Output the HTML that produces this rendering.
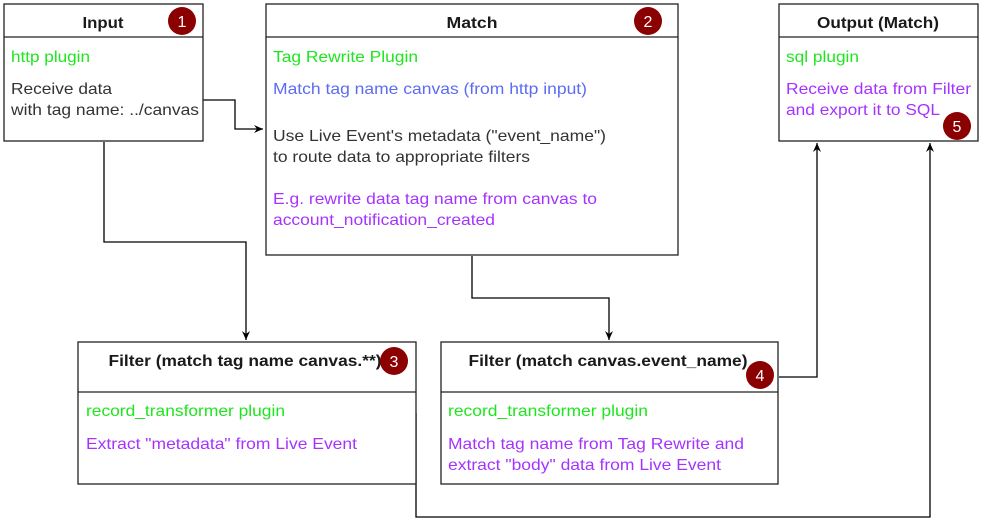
<!DOCTYPE html>
<html><head><meta charset="utf-8"><style>
html,body{margin:0;padding:0;background:#fff;}
svg{display:block;}
text{font-family:"Liberation Sans",Arial,sans-serif;font-size:16px;}
.h{font-weight:bold;fill:#1a1a1a;text-anchor:middle;}
.g{fill:#1ee61e;}
.k{fill:#333;}
.b{fill:#5c6cf2;}
.p{fill:#a533ff;}
.n{fill:#fff;text-anchor:middle;font-size:16px;}
</style></head><body>
<svg width="986" height="531" viewBox="0 0 986 531" xmlns="http://www.w3.org/2000/svg">
<defs><marker id="a" markerWidth="10" markerHeight="10" refX="9" refY="5" orient="auto" markerUnits="userSpaceOnUse"><path d="M0,1 L9,5 L0,9 L3,5 z" fill="#000"/></marker></defs>
<g fill="none" stroke="#000" stroke-width="1.3">
<path d="M203,100 H235 V129 H263" marker-end="url(#a)"/>
<path d="M104,142 V242 H246 V340" marker-end="url(#a)"/>
<path d="M472,256 V298 H609 V340" marker-end="url(#a)"/>
<path d="M779,377 H817 V143" marker-end="url(#a)"/>
<path d="M416,413 V517 H930 V143" marker-end="url(#a)"/>
</g>
<g fill="#fff" stroke="#222" stroke-width="1.3">
<rect x="4" y="4" width="199" height="137"/><line x1="4" y1="37" x2="203" y2="37"/>
<rect x="266" y="4" width="412" height="251"/><line x1="266" y1="37" x2="678" y2="37"/>
<rect x="779" y="4" width="199" height="137"/><line x1="779" y1="37" x2="978" y2="37"/>
<rect x="78" y="342" width="338" height="142"/><line x1="78" y1="392" x2="416" y2="392"/>
<rect x="441" y="342" width="337" height="142"/><line x1="441" y1="392" x2="778" y2="392"/>
</g>
<text class="h" x="103" y="28" textLength="41" lengthAdjust="spacingAndGlyphs">Input</text>
<text class="g" x="11" y="62" textLength="79" lengthAdjust="spacingAndGlyphs">http plugin</text>
<text class="k" x="11" y="94" textLength="101" lengthAdjust="spacingAndGlyphs">Receive data</text>
<text class="k" x="11" y="115" textLength="188" lengthAdjust="spacingAndGlyphs">with tag name: ../canvas</text>
<text class="h" x="472" y="28" textLength="51" lengthAdjust="spacingAndGlyphs">Match</text>
<text class="g" x="273" y="62" textLength="145" lengthAdjust="spacingAndGlyphs">Tag Rewrite Plugin</text>
<text class="b" x="273" y="94" textLength="314" lengthAdjust="spacingAndGlyphs">Match tag name canvas (from http input)</text>
<text class="k" x="273" y="141" textLength="333" lengthAdjust="spacingAndGlyphs">Use Live Event's metadata ("event_name")</text>
<text class="k" x="273" y="162" textLength="257" lengthAdjust="spacingAndGlyphs">to route data to appropriate filters</text>
<text class="p" x="273" y="204" textLength="324" lengthAdjust="spacingAndGlyphs">E.g. rewrite data tag name from canvas to</text>
<text class="p" x="273" y="225" textLength="222" lengthAdjust="spacingAndGlyphs">account_notification_created</text>
<text class="h" x="878" y="28" textLength="122" lengthAdjust="spacingAndGlyphs">Output (Match)</text>
<text class="g" x="786" y="62" textLength="73" lengthAdjust="spacingAndGlyphs">sql plugin</text>
<text class="p" x="786" y="94" textLength="185" lengthAdjust="spacingAndGlyphs">Receive data from Filter</text>
<text class="p" x="786" y="115" textLength="154" lengthAdjust="spacingAndGlyphs">and export it to SQL</text>
<text class="h" x="245" y="366" textLength="273" lengthAdjust="spacingAndGlyphs">Filter (match tag name canvas.**)</text>
<text class="g" x="86" y="416" textLength="199" lengthAdjust="spacingAndGlyphs">record_transformer plugin</text>
<text class="p" x="86" y="449" textLength="271" lengthAdjust="spacingAndGlyphs">Extract "metadata" from Live Event</text>
<text class="h" x="608" y="366" textLength="279" lengthAdjust="spacingAndGlyphs">Filter (match canvas.event_name)</text>
<text class="g" x="448" y="416" textLength="200" lengthAdjust="spacingAndGlyphs">record_transformer plugin</text>
<text class="p" x="448" y="449" textLength="296" lengthAdjust="spacingAndGlyphs">Match tag name from Tag Rewrite and</text>
<text class="p" x="448" y="470" textLength="273" lengthAdjust="spacingAndGlyphs">extract "body" data from Live Event</text>
<g fill="#8b0000">
<circle cx="182" cy="21" r="14"/><circle cx="648" cy="21" r="14"/><circle cx="394" cy="361" r="14"/><circle cx="760" cy="375" r="14"/><circle cx="957" cy="126" r="14"/>
</g>
<text class="n" x="182" y="27">1</text><text class="n" x="648" y="27">2</text><text class="n" x="394" y="367">3</text><text class="n" x="760" y="381">4</text><text class="n" x="957" y="132">5</text>
</svg>
</body></html>
